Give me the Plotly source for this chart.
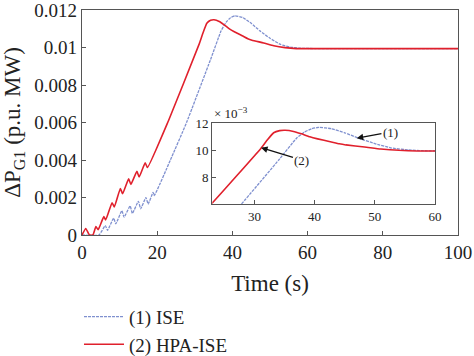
import plotly.graph_objects as go

# ---- data ----
t_ise = [0, 4.5, 6.2, 6.8, 8.4, 9.0, 10.6, 11.2, 12.8, 13.4, 15.0, 15.6, 17.0, 17.6, 18.9,
         19.2, 23.5, 27.8, 34.2, 37.0, 38.3, 39.5, 40.7, 42.8, 45.0, 47.3, 50.0, 52.8, 55.5,
         58.0, 62.0, 100.0]
p_ise = [0, 0, 0.00050, 0.00025, 0.00090, 0.00060, 0.00130, 0.00095, 0.00155, 0.00115,
         0.00180, 0.00140, 0.00200, 0.00165, 0.00228, 0.00210, 0.00400, 0.00600, 0.00937,
         0.01090, 0.01135, 0.01160, 0.01170, 0.01160, 0.01130, 0.01090, 0.01050, 0.01017,
         0.01003, 0.00997, 0.00995, 0.00995]

t_hpa = [0, 1.0, 2.0, 2.9, 3.7, 4.3, 5.8, 6.3, 8.0, 8.6, 10.2, 10.8, 12.4, 13.0, 14.6, 15.2,
         16.8, 17.4, 23.0, 31.1, 32.2, 33.2, 34.2, 35.1, 36.5, 37.8, 39.2, 40.5, 42.6, 44.1,
         45.2, 48.3, 51.0, 54.0, 57.0, 62.0, 100.0]
p_hpa = [0, 0.00035, 0, 0, 0.00045, 0.00028, 0.00098, 0.00080, 0.00172, 0.00150, 0.00248,
         0.00220, 0.00300, 0.00270, 0.00340, 0.00310, 0.00385, 0.00360, 0.00610, 0.01016,
         0.01080, 0.01130, 0.01146, 0.01149, 0.01140, 0.01122, 0.01100, 0.01085, 0.01064,
         0.01048, 0.01040, 0.01025, 0.01010, 0.01000, 0.00995, 0.00995, 0.00995]

y_ticks = [0, 0.002, 0.004, 0.006, 0.008, 0.01, 0.012]
y_ticktext = ["0", "0.002", "0.004", "0.006", "0.008", "0.01", "0.012"]
x_ticks = [0, 20, 40, 60, 80, 100]
inset_x_ticks = [30, 40, 50, 60]
inset_y_ticks = [8, 10, 12]

# inset uses same data scaled by 1e3
p_ise_k = [v * 1e3 for v in p_ise]
p_hpa_k = [v * 1e3 for v in p_hpa]

BLUE = "#7f90cf"
RED = "#e0202c"
AX = "#555555"
FONT = "Liberation Serif"

blue_line = dict(color=BLUE, width=1.3, dash="3px,1px", shape="spline", smoothing=0.4)
red_line = dict(color=RED, width=1.6, shape="spline", smoothing=0.4)

fig = go.Figure()
fig.add_trace(go.Scatter(x=t_ise, y=p_ise, mode="lines", name="(1) ISE", line=blue_line))
fig.add_trace(go.Scatter(x=t_hpa, y=p_hpa, mode="lines", name="(2) HPA-ISE", line=red_line))
fig.add_trace(go.Scatter(x=t_ise, y=p_ise_k, mode="lines", showlegend=False,
                         xaxis="x2", yaxis="y2", line=blue_line))
fig.add_trace(go.Scatter(x=t_hpa, y=p_hpa_k, mode="lines", showlegend=False,
                         xaxis="x2", yaxis="y2", line=red_line))

axis_common = dict(showgrid=False, zeroline=False, showline=True, linecolor=AX,
                   linewidth=1.2, mirror=True, ticks="inside", tickcolor=AX,
                   ticklen=4, tickwidth=1, automargin=False, ticklabeloverflow="allow")

fig.update_layout(
    width=474, height=356,
    margin=dict(l=82, r=16, t=10, b=121, autoexpand=False),
    paper_bgcolor="white", plot_bgcolor="white",
    font=dict(family=FONT, size=19, color="#222222"),
    xaxis=dict(range=[0, 100], tickvals=x_ticks,
               ticktext=[str(v) for v in x_ticks],
               title=dict(text="Time (s)", standoff=12), **axis_common),
    yaxis=dict(range=[0, 0.01201], tickvals=y_ticks, ticktext=y_ticktext,
               title=dict(text="ΔP<sub>G1</sub> (p.u. MW)", standoff=8), **axis_common),
    xaxis2=dict(domain=[0.3465, 0.9388], anchor="y2", range=[23, 60],
                tickvals=inset_x_ticks, tickfont=dict(size=13), **axis_common),
    yaxis2=dict(domain=[0.1364, 0.4964], anchor="x2", range=[6, 12.001],
                tickvals=inset_y_ticks, tickfont=dict(size=13), **axis_common),
    legend=dict(x=-0.008, y=-0.279, xanchor="left", yanchor="top", itemwidth=40,
                bgcolor="rgba(0,0,0,0)", font=dict(size=19), tracegroupgap=0),
    showlegend=True,
)

fig.add_annotation(text="× 10<sup>−3</sup>", xref="x2 domain", yref="y2 domain",
                   x=0.0, y=1.0, xanchor="left", yanchor="bottom", showarrow=False,
                   font=dict(size=13))

# arrows with labels in the inset
fig.add_annotation(x=47.0, y=10.9, ax=52.6, ay=11.35, xref="x2", yref="y2",
                   axref="x2", ayref="y2", text="(1)", showarrow=True, arrowhead=2,
                   arrowsize=1, arrowwidth=1.3, arrowcolor="#111111",
                   font=dict(size=13))
fig.add_annotation(x=31.1, y=10.19, ax=37.9, ay=9.28, xref="x2", yref="y2",
                   axref="x2", ayref="y2", text="(2)", showarrow=True, arrowhead=2,
                   arrowsize=1, arrowwidth=1.3, arrowcolor="#111111",
                   font=dict(size=13))

fig.write_html("out.html", config={"displayModeBar": False},
               post_script="document.body.style.margin='0';")
